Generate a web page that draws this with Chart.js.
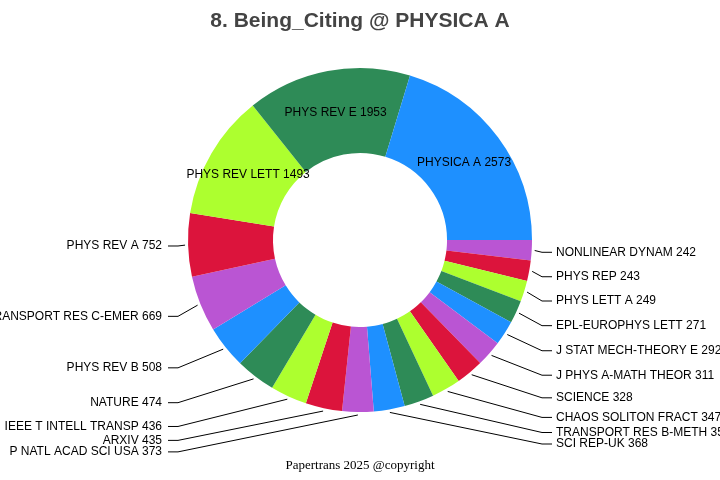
<!DOCTYPE html>
<html><head><meta charset="utf-8">
<script src="https://cdn.jsdelivr.net/npm/chart.js@4"></script>
<style>html,body{margin:0;padding:0;background:#fff}canvas{display:block}</style>
</head><body>
<canvas id="c" width="720" height="480"></canvas>
<script>
const titleText = '8. Being_Citing @ PHYSICA A';
const footerText = 'Papertrans 2025 @copyright';
const journals = ['PHYSICA A','PHYS REV E','PHYS REV LETT','PHYS REV A','TRANSPORT RES C-EMER','PHYS REV B','NATURE','IEEE T INTELL TRANSP','ARXIV','P NATL ACAD SCI USA','SCI REP-UK','TRANSPORT RES B-METH','CHAOS SOLITON FRACT','SCIENCE','J PHYS A-MATH THEOR','J STAT MECH-THEORY E','EPL-EUROPHYS LETT','PHYS LETT A','PHYS REP','NONLINEAR DYNAM'];
const counts = [2573,1953,1493,752,669,508,474,436,435,373,368,355,347,328,311,292,271,249,243,242];
const palette = ['#1E90FF','#2E8B57','#ADFF2F','#DC143C','#BA55D3'];

// drawn clockwise from 3 o'clock, smallest first
const labelsCW = journals.slice().reverse();
const dataCW = counts.slice().reverse();
const colorsCW = journals.map((_, i) => palette[i % palette.length]).reverse();

const labelPlugin = {
  id: 'sliceLabels',
  afterDatasetsDraw(chart) {
    const ctx = chart.ctx;
    const meta = chart.getDatasetMeta(0);
    const ds = chart.data.datasets[0];
    const total = ds.data.reduce((a, b) => a + b, 0);
    const left = [], right = [];
    ctx.save();
    ctx.font = '12px "Liberation Sans", Arial, sans-serif';
    ctx.fillStyle = '#000';
    meta.data.forEach((arc, i) => {
      const p = arc.getProps(['x', 'y', 'startAngle', 'endAngle', 'innerRadius', 'outerRadius'], true);
      const mid = (p.startAngle + p.endAngle) / 2;
      const text = chart.data.labels[i] + ' ' + ds.data[i];
      if (ds.data[i] / total > 0.1) {
        const rr = (p.innerRadius + p.outerRadius) / 2;
        ctx.textAlign = 'center'; ctx.textBaseline = 'middle';
        ctx.fillText(text, p.x + rr * Math.cos(mid), p.y + rr * Math.sin(mid));
      } else {
        const item = { text, mid, p, y: p.y + (p.outerRadius + 33) * Math.sin(mid) };
        (Math.cos(mid) >= 0 ? right : left).push(item);
      }
    });
    [right, left].forEach((list, k) => {
      const dir = k === 0 ? 1 : -1;
      list.sort((a, b) => a.y - b.y);
      for (let j = 1; j < list.length; j++) {
        if (list[j].y < list[j - 1].y + 11.5) list[j].y = list[j - 1].y + 11.5;
      }
      list.forEach(it => {
        const { p, mid } = it;
        const r = p.outerRadius;
        const sx = p.x + (r + 3) * Math.cos(mid), sy = p.y + (r + 3) * Math.sin(mid);
        const bx = p.x + dir * (r + 10), ex = p.x + dir * (r + 20);
        ctx.beginPath(); ctx.moveTo(sx, sy); ctx.lineTo(bx, it.y); ctx.lineTo(ex, it.y);
        ctx.strokeStyle = '#000'; ctx.lineWidth = 1; ctx.stroke();
        ctx.textAlign = dir > 0 ? 'left' : 'right'; ctx.textBaseline = 'middle';
        ctx.fillText(it.text, ex + (dir > 0 ? 4 : -6), it.y);
      });
    });
    ctx.restore();
  },
  afterDraw(chart) {
    const ctx = chart.ctx;
    ctx.save();
    ctx.textAlign = 'center';
    ctx.textBaseline = 'alphabetic';
    ctx.fillStyle = '#444';
    ctx.font = 'bold 21px "Liberation Sans", Arial, sans-serif';
    ctx.fillText(titleText, chart.width / 2, 27);
    ctx.fillStyle = '#000';
    ctx.font = '13px "Liberation Serif", "Times New Roman", serif';
    ctx.textBaseline = 'middle';
    ctx.fillText(footerText, chart.width / 2, 466);
    ctx.restore();
  }
};

new Chart(document.getElementById('c'), {
  type: 'doughnut',
  data: {
    labels: labelsCW,
    datasets: [{ data: dataCW, backgroundColor: colorsCW, borderWidth: 0 }]
  },
  options: {
    responsive: false,
    maintainAspectRatio: false,
    animation: false,
    rotation: 90,
    cutout: '50.6%',
    layout: { padding: { top: 68, bottom: 68, left: 0, right: 0 } },
    plugins: { legend: { display: false }, tooltip: { enabled: false }, title: { display: false } }
  },
  plugins: [labelPlugin]
});
</script>
</body></html>
